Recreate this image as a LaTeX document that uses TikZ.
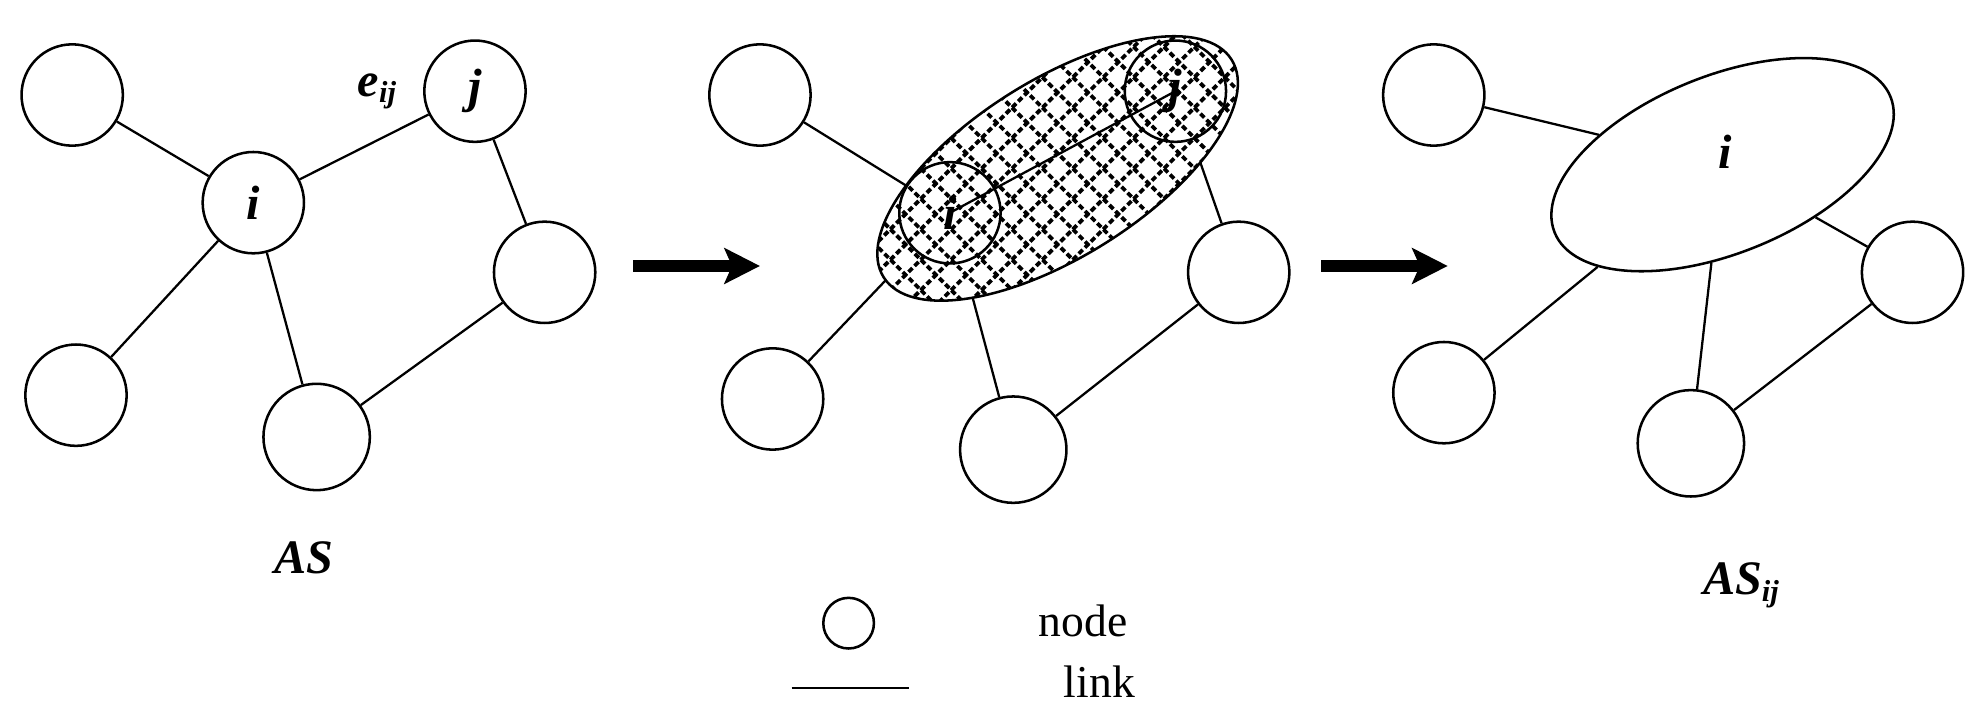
\documentclass[tikz,border=0pt]{standalone}
\usepackage{fontspec}
\setmainfont{Liberation Serif}
\usetikzlibrary{shapes.geometric,arrows.meta}
\begin{document}
\begin{tikzpicture}[x=0.5pt,y=-0.5pt,
  nd/.style={circle,draw,line width=1pt,fill=white,minimum size=40pt,inner sep=0pt,font=\bfseries\itshape\fontsize{19}{19}\selectfont},
  ln/.style={line width=0.9pt},
  big/.style={-{Stealth[length=14pt,width=14pt,inset=3pt]},line width=5pt},
  lab/.style={font=\bfseries\itshape\fontsize{19}{19}\selectfont}]
\useasboundingbox (0,0) rectangle (1568,568);
% left graph
\node[nd] (a1) at (57,75) {};
\node[nd] (j1) at (375,72) {j};
\node[nd] (i1) at (200,160) {i};
\node[nd] (r1) at (430,215) {};
\node[nd] (b1) at (60,312) {};
\node[nd,minimum size=42pt] (m1) at (250,345) {};
\draw[ln] (a1)--(i1) (i1)--(j1) (j1)--(r1) (i1)--(b1) (i1)--(m1) (m1)--(r1);
\node[lab] (e) at (298,72) {e\textsubscript{\fontsize{12}{12}\selectfont ij}};
\node[lab] (as) at (240,440) {AS};
% arrows
\coordinate (p1) at (500,210); \coordinate (q1) at (600,210);
\draw[big] (p1)--(q1);
\coordinate (p2) at (1043,210); \coordinate (q2) at (1143,210);
\draw[big] (p2)--(q2);
% middle graph
\node[nd] (a2) at (600,75) {};
\node[nd] (r2) at (978,215) {};
\node[nd] (b2) at (610,315) {};
\node[nd,minimum size=42pt] (m2) at (800,355) {};
\coordinate (i2c) at (750,168);
\coordinate (j2c) at (928,72);
\draw[ln] (a2)--(i2c) (i2c)--(j2c) (j2c)--(r2) (i2c)--(b2) (i2c)--(m2) (m2)--(r2);
\node[ellipse,draw,line width=1pt,fill=white,rotate=32,minimum width=162pt,minimum height=70pt] (el) at (835,133) {};
\begin{scope}
\clip[rotate around={32:(835,133)}] (835,133) ellipse (162 and 70);
\foreach \k in {-420,-396,...,420}{
  \draw[line width=1.5pt,dash pattern=on 2.2pt off 1.2pt] (835+\k-250,133-250)--(835+\k+250,133+250);
  \draw[line width=1.5pt,dash pattern=on 2.2pt off 1.2pt] (835+\k-250,133+250)--(835+\k+250,133-250);
}
\end{scope}
\draw[ln] (i2c)--(j2c);
\node[nd,fill=none] (i2) at (750,168) {i};
\node[nd,fill=none] (j2) at (928,72) {j};
% right graph
\node[nd] (a3) at (1132,75) {};
\node[nd] (r3) at (1510,215) {};
\node[nd] (b3) at (1140,310) {};
\node[nd,minimum size=42pt] (m3) at (1335,350) {};
\node[ellipse,draw,line width=1pt,fill=white,rotate=22,minimum width=143pt,minimum height=70pt] (e3) at (1360,130) {};
\node[lab] (i3) at (1362,120) {i};
\draw[ln] (a3)--(e3) (e3)--(b3) (m3)--(e3) (e3)--(r3) (m3)--(r3);
\node[lab] (asij) at (1375,462) {AS\textsubscript{\fontsize{12}{12}\selectfont ij}};
% legend
\node[circle,draw,line width=1pt,minimum size=20pt,inner sep=0pt] (lc) at (670,492) {};
\coordinate (l1) at (625,543); \coordinate (l2) at (718,543);
\draw[ln] (l1)--(l2);
\node[font=\fontsize{18}{18}\selectfont] (tn) at (855,490) {node};
\node[font=\fontsize{18}{18}\selectfont] (tl) at (868,538) {link};
\end{tikzpicture}
\end{document}
